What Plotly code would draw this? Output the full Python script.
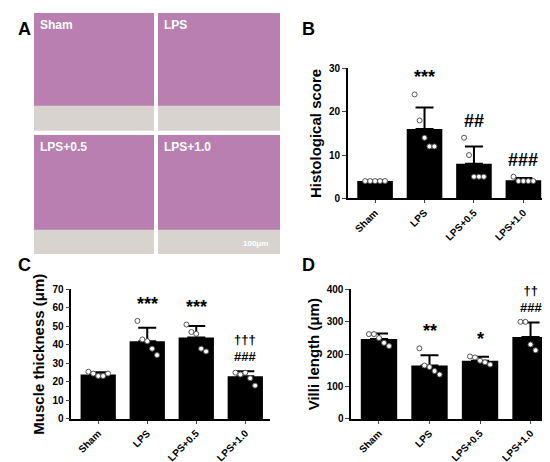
import plotly.graph_objects as go

groups = ["Sham", "LPS", "LPS+0.5", "LPS+1.0"]

b_mean = [4, 16, 8, 4.2]
b_sd = [0.2, 5, 4, 0.5]
b_pts = [[4, 4, 4, 4, 4], [24, 18, 14, 12, 12], [14, 10, 5, 5, 5], [5, 4, 4, 4, 4]]
b_sig = ["", "***", "##", "###"]

c_mean = [24, 42, 44, 23]
c_sd = [1.2, 7.3, 6.2, 2.8]
c_pts = [[25.5, 24.5, 23.2, 23.2, 24.5], [53, 43, 42, 38, 34.5], [51, 47, 46, 38, 36.5], [25, 24, 25, 22, 18]]
c_sig = ["", "***", "***", "†††<br>###"]

d_mean = [247, 165, 180, 253]
d_sd = [17, 32, 12, 45]
d_pts = [[262, 262, 250, 235, 225], [218, 165, 160, 148, 137], [193, 190, 180, 175, 168], [300, 300, 230, 212]]
d_sig = ["", "**", "*", "††<br>###"]

jit = [-0.2, -0.1, 0.0, 0.1, 0.2]
FONT = "Liberation Sans, Arial"

fig = go.Figure()
panels = [
    ("", b_mean, b_sd, b_pts, b_sig, "Histological score", [0, 30], 10, [0.618, 0.982], [0.589, 0.877]),
    ("2", c_mean, c_sd, c_pts, c_sig, "Muscle thickness (μm)", [0, 70], 10, [0.115, 0.476], [0.100, 0.387]),
    ("3", d_mean, d_sd, d_pts, d_sig, "Villi length (μm)", [0, 400], 100, [0.624, 0.996], [0.100, 0.387]),
]
for ax, mean, sd, pts, sig, title, rng, dt, xd, yd in panels:
    fig.add_trace(go.Bar(x=list(range(4)), y=mean, xaxis="x" + ax, yaxis="y" + ax,
                         marker=dict(color="black", line=dict(width=0)), width=0.72,
                         error_y=dict(type="data", array=sd, arrayminus=[0] * 4, symmetric=False,
                                      color="black", thickness=2, width=9),
                         showlegend=False))
    xs, ys = [], []
    for i, p in enumerate(pts):
        for j, v in enumerate(p):
            xs.append(i + jit[j % len(jit)])
            ys.append(v)
    fig.add_trace(go.Scatter(x=xs, y=ys, mode="markers", xaxis="x" + ax, yaxis="y" + ax,
                             marker=dict(color="white", size=5, line=dict(color="#555", width=1)),
                             showlegend=False))
    top = rng[1]
    for i, s in enumerate(sig):
        if s:
            ytop = max(max(pts[i]), mean[i] + sd[i])
            fig.add_annotation(x=i, y=ytop + top * 0.04, text="<b>" + s + "</b>", xref="x" + ax, yref="y" + ax,
                               showarrow=False, yanchor="bottom",
                               font=dict(size=13 if "<br>" in s else 18, family=FONT, color="black"))
    fig.layout["xaxis" + ax] = dict(domain=xd, range=[-0.55, 3.5], tickvals=list(range(4)),
                                    ticktext=["<b>" + g + "</b>" for g in groups],
                                    tickangle=-45, showline=True, linecolor="black", linewidth=1.5,
                                    ticks="outside", ticklen=3, tickfont=dict(size=10, family=FONT, color="black"),
                                    anchor="y" + ax, showgrid=False, zeroline=False)
    fig.layout["yaxis" + ax] = dict(domain=yd, range=rng, dtick=dt, showline=True, linecolor="black", linewidth=1.5,
                                    ticks="outside", ticklen=4, tickfont=dict(size=10, family=FONT, color="black"),
                                    tickprefix="<b>", ticksuffix="</b>",
                                    title=dict(text="<b>" + title + "</b>", font=dict(size=15, family=FONT, color="black"), standoff=4),
                                    anchor="x" + ax, showgrid=False, zeroline=False)

# Panel A: placeholders for micrographs
imgs = [(26, 0, 146, 120, "Sham"), (150, 0, 272, 120, "LPS"), (26, 125, 146, 247, "LPS+0.5"), (150, 125, 272, 247, "LPS+1.0")]
for x0, y0, x1, y1, lab in imgs:
    fig.add_shape(type="rect", xref="paper", yref="paper", x0=x0 / 550, x1=x1 / 550,
                  y0=1 - y1 / 462, y1=1 - y0 / 462, fillcolor="#b87fb0", line=dict(width=0), layer="below")
    fig.add_shape(type="rect", xref="paper", yref="paper", x0=x0 / 550, x1=x1 / 550,
                  y0=1 - y1 / 462, y1=1 - (y1 - 25) / 462, fillcolor="#d8d3cf", line=dict(width=0), layer="below")
    fig.add_annotation(x=(x0 + 4) / 550, y=1 - (y0 + 3) / 462, xref="paper", yref="paper", text="<b>" + lab + "</b>",
                       showarrow=False, xanchor="left", yanchor="top", font=dict(size=12, family=FONT, color="white"))
fig.add_annotation(x=262 / 550, y=1 - 236 / 462, xref="paper", yref="paper", text="<b>100μm</b>", showarrow=False,
                   xanchor="right", font=dict(size=8, family=FONT, color="white"))

for lab, x, y in [("A", 8, 16), ("B", 292, 16), ("C", 8, 258), ("D", 292, 258)]:
    fig.add_annotation(x=x / 550, y=1 - y / 462, xref="paper", yref="paper", text="<b>" + lab + "</b>",
                       showarrow=False, xanchor="left", yanchor="middle", font=dict(size=18, family=FONT, color="black"))

fig.update_layout(width=550, height=462, margin=dict(l=0, r=0, t=0, b=0),
                  paper_bgcolor="white", plot_bgcolor="white")
fig.write_html("out.html")
